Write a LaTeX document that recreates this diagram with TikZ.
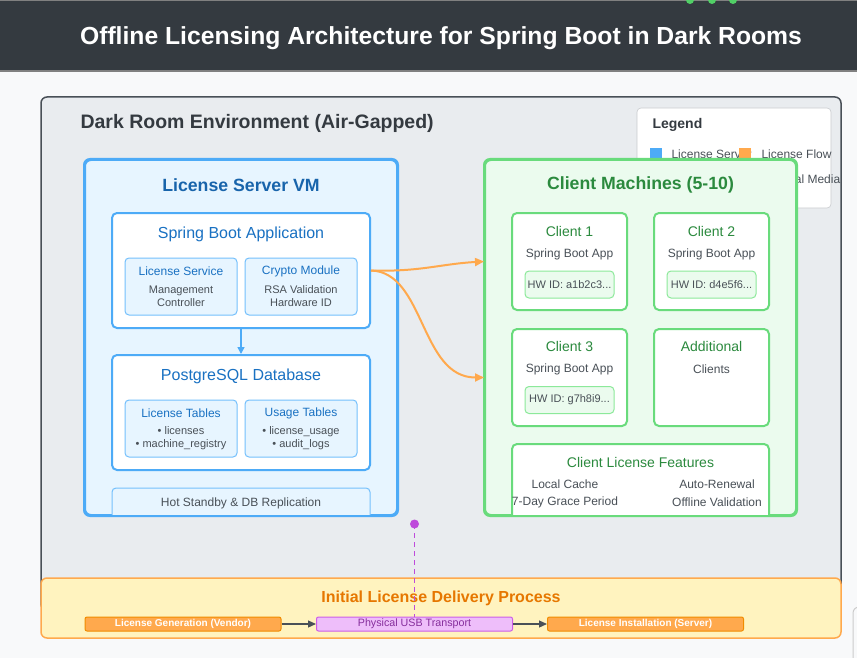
\documentclass[tikz,border=0pt]{standalone}
\usepackage{fontspec}
\setmainfont{Liberation Sans}
\usetikzlibrary{arrows.meta, calc, positioning}
\definecolor{bar}{HTML}{343A40}
\definecolor{page}{HTML}{F8F9FA}
\definecolor{room}{HTML}{E9ECEF}
\definecolor{roomline}{HTML}{495057}
\definecolor{txt}{HTML}{495057}
\definecolor{srvfill}{HTML}{E7F5FF}
\definecolor{srvline}{HTML}{4DABF7}
\definecolor{srvsub}{HTML}{74C0FC}
\definecolor{srvtitle}{HTML}{1864AB}
\definecolor{srvtext}{HTML}{1971C2}
\definecolor{clifill}{HTML}{EBFBEE}
\definecolor{cliline}{HTML}{69DB7C}
\definecolor{clisub}{HTML}{8CE99A}
\definecolor{clititle}{HTML}{2B8A3E}
\definecolor{delfill}{HTML}{FFF3BF}
\definecolor{delline}{HTML}{FFA94D}
\definecolor{deldraw}{HTML}{F08C00}
\definecolor{deltitle}{HTML}{E67700}
\definecolor{usbfill}{HTML}{EEBEFA}
\definecolor{usbline}{HTML}{CC5DE8}
\definecolor{usbtext}{HTML}{862E9C}
\definecolor{usbdot}{HTML}{BE4BDB}
\definecolor{dots}{HTML}{51CF66}
\newcommand{\pxfont}[2]{\fontsize{#1}{#2}\selectfont}

\begin{document}
\begin{tikzpicture}[x=1pt, y=-1pt,
        box/.style={draw, rounded corners=6pt, line width=2pt, inner sep=0pt},
        srvbox/.style={box, draw=srvline, fill=white, rounded corners=5pt, minimum width=258, minimum height=115},
        srvpart/.style={box, draw=srvsub, fill=srvfill, line width=1pt, rounded corners=4pt, minimum width=112, minimum height=57},
        clibox/.style={box, draw=cliline, fill=white, rounded corners=5pt, minimum width=115, minimum height=97},
        hwbox/.style={box, draw=clisub, fill=clifill, line width=1pt, rounded corners=4pt, minimum width=89, minimum height=27, font=\pxfont{11}{13}, text=txt},
        flowbox/.style={box, line width=1pt, rounded corners=2pt, minimum width=196, minimum height=14, font=\bfseries\pxfont{10}{12}},
        legendkey/.style={fill=#1, minimum size=12, inner sep=0pt},
        srvhead/.style={font=\pxfont{16}{19}, text=srvtext},
        parthead/.style={font=\pxfont{12}{14}, text=srvtext},
        clihead/.style={font=\pxfont{14}{17}, text=clititle},
        body/.style={font=\pxfont{11}{13}, text=txt, align=center},
        lictext/.style={font=\pxfont{12}{14}, text=txt},
        licflow/.style={-{Triangle[length=9pt,width=8pt]}, line width=2pt, draw=delline},
        flow/.style={-{Triangle[length=8pt,width=7pt]}, line width=1.2pt, draw=roomline}]
    \clip (0,0) rectangle (857,658);
    \fill[page] (0,0) rectangle (857,658);
    \useasboundingbox (0,0) rectangle (857,658);

    % title bar
    \fill[bar] (0,0) rectangle (857,70);
    \draw[gray, line width=2pt] (0,71) -- (857,71);
    \draw[gray, line width=1pt] (0,0.5) -- (857,0.5);
    \foreach \x in {690,712,733}
        \fill[dots] (\x,0) circle (4);
    \node[text=white, font=\bfseries\pxfont{24.7}{28}] (title) at (441,38) {Offline Licensing Architecture for Spring Boot in Dark Rooms};

    % dark room
    \node[box, draw=roomline, fill=room, line width=1.5pt, minimum width=800, minimum height=513] (room) at (441,353.5) {};
    \node[anchor=west, text=bar, font=\bfseries\pxfont{19.5}{23}] (roomtitle) at (77,123) {Dark Room Environment (Air-Gapped)};

    % legend
    \node[box, draw=room!70!gray, fill=white, line width=0.6pt, rounded corners=4pt, minimum width=194, minimum height=100] (legend) at (734,158) {};
    \node[anchor=west, text=bar, font=\bfseries\pxfont{14}{16}] (legendtitle) at (649,125) {Legend};
    \node[legendkey=srvline] (keysrv) at (656,154) {};
    \node[lictext, anchor=west] (keysrvtext) at (668,154) {License Server};
    \node[legendkey=delline] (keyflow) at (745,154) {};
    \node[lictext, anchor=west] (keyflowtext) at (758,154) {License Flow};
    \node[legendkey=usbline] (keyusb) at (745,180) {};
    \node[lictext, anchor=west] (keyusbtext) at (756,180) {Physical Media};

    % license server
    \node[box, draw=srvline, fill=srvfill, minimum width=312, minimum height=355] (vm) at (241,337.5) {};
    \node[text=srvtitle, font=\bfseries\pxfont{17.7}{21}] (vmtitle) at (241,185) {License Server VM};

    \node[srvbox] (spring) at (241,270.5) {};
    \node[srvhead] (springtitle) at (241,234) {Spring Boot Application};
    \node[srvpart] (service) at (181,286.5) {};
    \node[parthead] at (181,271) {License Service};
    \node[body] at (181,296.5) {Management\\Controller};
    \node[srvpart] (crypto) at (301,286.5) {};
    \node[parthead] at (301,271) {Crypto Module};
    \node[body] at (301,296.5) {RSA Validation\\Hardware ID};

    \node[srvbox] (db) at (241,412.5) {};
    \node[srvhead] (dbtitle) at (241,376) {PostgreSQL Database};
    \node[srvpart] (lictables) at (181,428.5) {};
    \node[parthead] at (181,413) {License Tables};
    \node[body] at (181,438.5) {\textbullet{} licenses\\\textbullet{} machine\_registry};
    \node[srvpart] (usage) at (301,428.5) {};
    \node[parthead] at (301,413) {Usage Tables};
    \node[body] at (301,438.5) {\textbullet{} license\_usage\\\textbullet{} audit\_logs};

    \draw[-{Triangle[length=7pt,width=7pt]}, line width=1.5pt, srvline] (spring) -- (db);

    \begin{scope}
        \clip[rounded corners=6pt] (85,160) rectangle (397,515);
        \node[box, draw=srvsub, fill=srvfill, line width=1pt, rounded corners=4pt, minimum width=258, minimum height=36] (standby) at (241,506) {};
    \end{scope}
    \node[body, font=\pxfont{12}{14}] at (241,503) {Hot Standby \& DB Replication};
    \draw[srvline, line width=2pt, rounded corners=6pt] (vm.north west) rectangle (vm.south east);

    % clients
    \node[box, draw=cliline, fill=clifill, minimum width=311, minimum height=355] (clients) at (640.5,337.5) {};
    \node[text=clititle, font=\bfseries\pxfont{17.7}{21}] (clientstitle) at (640.5,185) {Client Machines (5-10)};

    \node[clibox] (client1) at (569.5,261.5) {};
    \node[clihead] at (569.5,231) {Client 1};
    \node[lictext] at (569.5,254) {Spring Boot App};
    \node[hwbox] (hw1) at (569.5,284.5) {HW ID: a1b2c3...};

    \node[clibox] (client2) at (711.5,261.5) {};
    \node[clihead] at (711.5,231) {Client 2};
    \node[lictext] at (711.5,254) {Spring Boot App};
    \node[hwbox] (hw2) at (711.5,284.5) {HW ID: d4e5f6...};

    \node[clibox] (client3) at (569.5,377.5) {};
    \node[clihead] at (569.5,346) {Client 3};
    \node[lictext] at (569.5,369) {Spring Boot App};
    \node[hwbox] (hw3) at (569.5,400) {HW ID: g7h8i9...};

    \node[clibox] (more) at (711.5,377.5) {};
    \node[clihead] at (711.5,346) {Additional};
    \node[lictext] at (711.5,369) {Clients};

    \begin{scope}
        \clip[rounded corners=6pt] (485,160) rectangle (796,515);
        \node[clibox, minimum width=257, minimum height=80] (features) at (640.5,484) {};
    \end{scope}
    \node[clihead] at (640.5,462) {Client License Features};
    \node[lictext] at (565,484) {Local Cache};
    \node[lictext] at (717,484) {Auto-Renewal};
    \node[lictext] at (565,502) {7-Day Grace Period};
    \node[lictext] at (717,502) {Offline Validation};
    \draw[cliline, line width=2pt, rounded corners=6pt] (clients.north west) rectangle (clients.south east);

    % delivery
    \node[box, draw=delline, fill=delfill, line width=1.5pt, minimum width=800, minimum height=60] (delivery) at (441,608) {};
    \node[text=deltitle, font=\bfseries\pxfont{16}{19}] (deliverytitle) at (441,598) {Initial License Delivery Process};
    \node[flowbox, draw=deldraw, fill=delline, text=white] (gen) at (183,624) {License Generation (Vendor)};
    \node[flowbox, draw=usbline, fill=usbfill, text=usbtext, font=\pxfont{10.7}{12}] (usb) at (414.5,624) {Physical USB Transport};
    \node[flowbox, draw=deldraw, fill=delline, text=white] (install) at (645.5,624) {License Installation (Server)};
    \draw[flow] (gen) -- (usb);
    \draw[flow] (usb) -- (install);

    \coordinate (media) at (414.5,524);
    \draw[usbdot, line width=1.5pt, dashed, dash pattern=on 5pt off 4pt] (media) -- (usb.north);
    \fill[usbdot] (media) circle (4.5);

    % license flow
    \draw[licflow] (spring.east) .. controls (420,272) and (440,264) .. (clients.west |- client1);
    \draw[licflow] (spring.east) .. controls (425,272) and (420,377.5) .. (clients.west |- client3);

    \draw[gray!40, line width=1pt, rounded corners=6pt] (853,670) -- (853,607) -- (880,607);
\end{tikzpicture}
\end{document}
